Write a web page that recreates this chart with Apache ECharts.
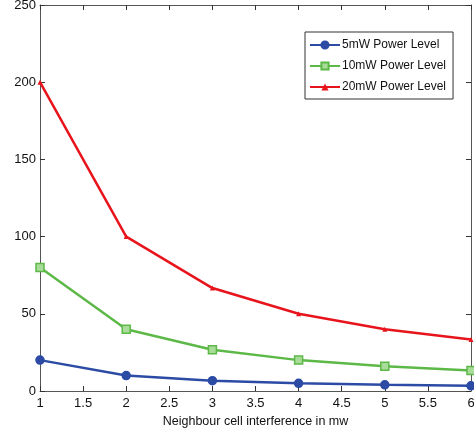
<!DOCTYPE html>
<html>
<head>
<meta charset="utf-8">
<script src="https://cdn.jsdelivr.net/npm/echarts@6/dist/echarts.min.js"></script>
<style>
    html, body { margin: 0; padding: 0; background: #fff; }
    #chart { width: 474px; height: 432px; }
</style>
</head>
<body>
<div id="chart"></div>
<script>
// 数据
let xValues = [1, 2, 3, 4, 5, 6];
let power5 = [20, 10, 6.67, 5, 4, 3.33];
let power10 = [80, 40, 26.67, 20, 16, 13.33];
let power20 = [200, 100, 66.67, 50, 40, 33.33];
let seriesNames = ['5mW Power Level', '10mW Power Level', '20mW Power Level'];

window.addEventListener('load', function() {
    let myChart = echarts.init(document.getElementById('chart'));
    let font = 'Liberation Sans, Arial, sans-serif';

    function pairs(vals) {
        return xValues.map(function(x, i) { return [x, vals[i]]; });
    }

    let axisCommon = {
        axisLine: { show: true, onZero: false, lineStyle: { color: '#555', width: 1 } },
        axisTick: { show: true, inside: true, length: 5, lineStyle: { color: '#333' } },
        splitLine: { show: false }
    };

    let option = {
        animation: false,
        color: ['#2b4ba5', '#5cb947', '#e8141c'],
        grid: { left: 40, right: 3, top: 5, bottom: 41, containLabel: false, outerBoundsMode: 'none' },
        legend: {
            orient: 'vertical',
            left: 305,
            top: 32,
            padding: [7, 7, 6, 4],
            itemGap: 9,
            itemWidth: 30,
            itemHeight: 9,
            borderColor: '#333',
            borderWidth: 1,
            backgroundColor: '#fff',
            textStyle: { fontFamily: font, fontSize: 12, color: '#111', padding: [0, 0, 0, -3] },
            data: seriesNames
        },
        xAxis: [
            Object.assign({}, axisCommon, {
                type: 'value', min: 1, max: 6, interval: 0.5,
                name: 'Neighbour cell interference in mw',
                nameLocation: 'middle', nameGap: 24,
                nameTextStyle: { fontFamily: font, fontSize: 12.5, color: '#111' },
                axisLabel: { fontFamily: font, fontSize: 13, color: '#111', margin: 6 }
            }),
            Object.assign({}, axisCommon, {
                type: 'value', min: 1, max: 6, interval: 0.5, position: 'top',
                axisLabel: { show: false }
            })
        ],
        yAxis: [
            Object.assign({}, axisCommon, {
                type: 'value', min: 0, max: 250, interval: 50,
                name: 'SINR',
                nameLocation: 'middle', nameGap: 31,
                nameTextStyle: { fontFamily: font, fontSize: 13, color: '#111' },
                axisLabel: { fontFamily: font, fontSize: 13, color: '#111', margin: 4 }
            }),
            Object.assign({}, axisCommon, {
                type: 'value', min: 0, max: 250, interval: 50, position: 'right',
                axisLabel: { show: false }
            })
        ],
        series: [{
                name: seriesNames[0],
                type: 'line',
                data: pairs(power5),
                symbol: 'circle',
                symbolSize: 8,
                lineStyle: { width: 2.5 },
                itemStyle: { color: '#2b4ba5', borderColor: '#2b4ba5', borderWidth: 1.5 },
                z: 3
            },
            {
                name: seriesNames[1],
                type: 'line',
                data: pairs(power10),
                symbol: 'rect',
                symbolSize: 8,
                lineStyle: { width: 2.5, color: '#5cb947' },
                itemStyle: { color: '#a8dc98', borderColor: '#5cb947', borderWidth: 1.5 },
                z: 4
            },
            {
                name: seriesNames[2],
                type: 'line',
                data: pairs(power20),
                symbol: 'triangle',
                symbolSize: 5,
                lineStyle: { width: 2.5 },
                itemStyle: { color: '#e8141c' },
                z: 5
            }
        ]
    };

    myChart.setOption(option);
});
</script>
</body>
</html>
